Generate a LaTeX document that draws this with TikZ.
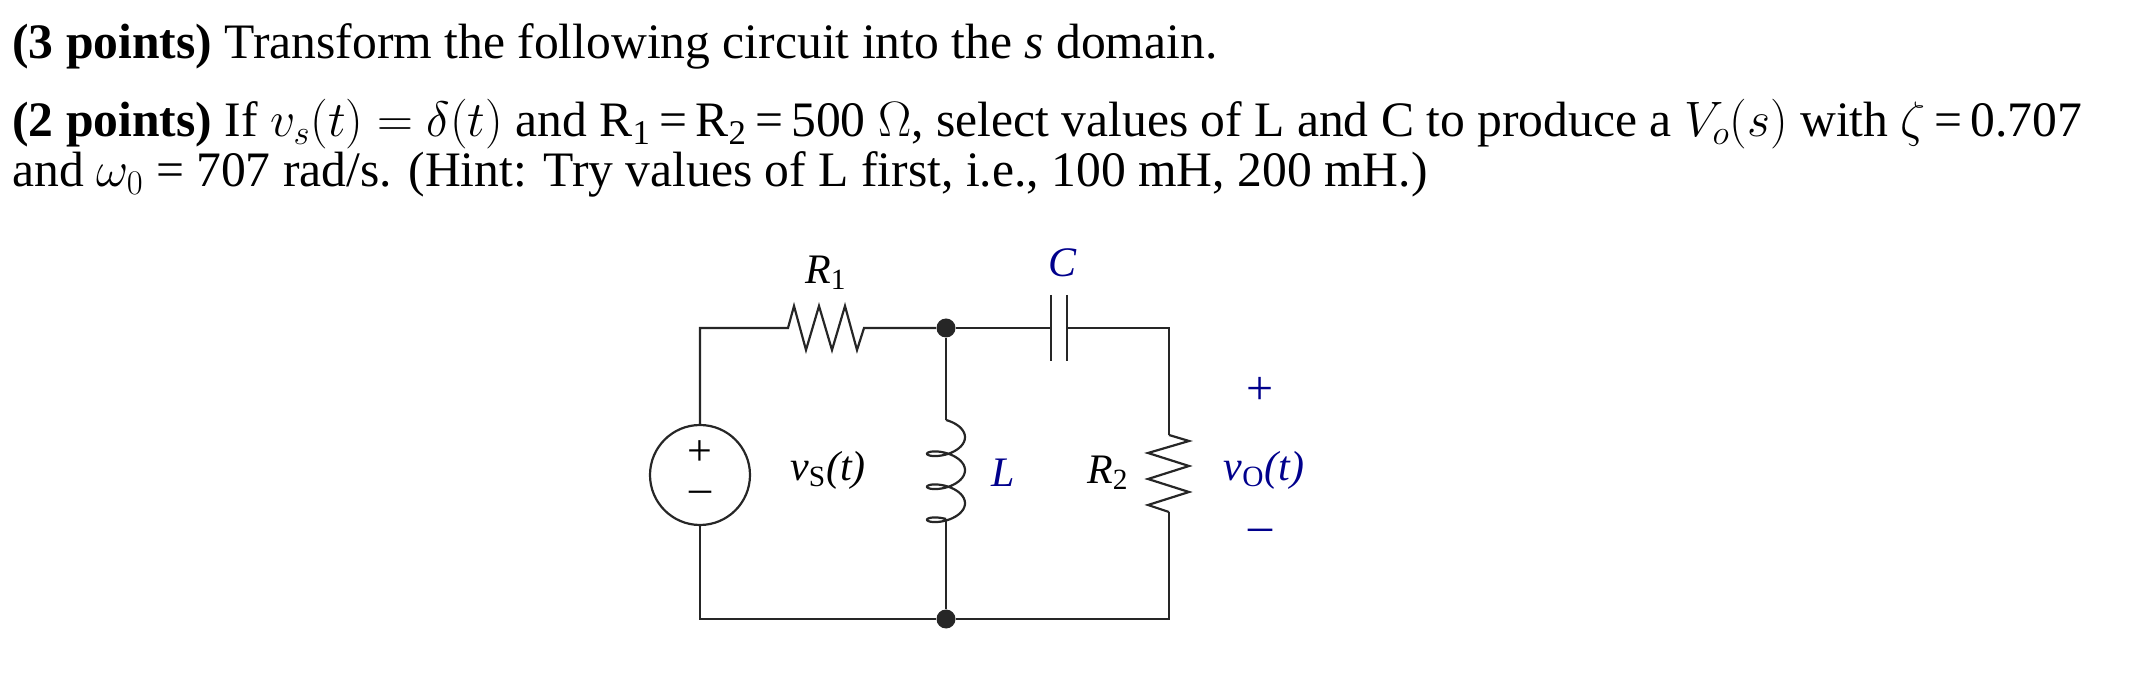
\documentclass[tikz,border=0pt]{standalone}
\usepackage{fontspec}
\setmainfont{Liberation Serif}
\usetikzlibrary{shapes.geometric}
\begin{document}
\begin{tikzpicture}[x=0.5pt,y=-0.5pt,
  w/.style={line width=1.1pt,black!85},
  lbl/.style={font=\fontsize{21}{24}\selectfont\itshape},
  blu/.style={text=blue!55!black},
  dot/.style={circle,fill=black!85,inner sep=0,minimum size=9.5pt}]
\useasboundingbox (0,0) rectangle (2152,694);
\node[anchor=base west,font=\fontsize{24.8}{28}\selectfont,inner sep=0] (t1) at (12,59)
 {\textbf{(3 points)} Transform the following circuit into the \textit{s} domain.};
\node[anchor=base west,font=\fontsize{24.8}{28}\selectfont,inner sep=0] (t2) at (12,137)
 {\textbf{(2 points)} If $v_s(t)=\delta(t)$ and R\textsubscript{1}\,=\,R\textsubscript{2}\,=\,500 $\Omega$, select values of L and C to produce a $V_o(s)$ with $\zeta$\,=\,0.707};
\node[anchor=base west,font=\fontsize{24.8}{28}\selectfont,inner sep=0] (t3) at (12,187)
 {and $\omega_0$ = 707 rad/s. (Hint: Try values of L first, i.e., 100 mH, 200 mH.)};
% nodes
\coordinate (tl) at (700,328); \coordinate (bl) at (700,619);
\coordinate (tr) at (1169,328); \coordinate (br) at (1169,619);
\node[dot] (nt) at (946,328) {}; \node[dot] (nb) at (946,619) {};
\node[draw,w,circle,minimum size=50pt,inner sep=0] (src) at (700,475) {};
\node[font=\fontsize{22}{22}\selectfont] (sp) at (700,453) {+};
\node[font=\fontsize{22}{22}\selectfont] (sm) at (700,497) {--};
% wires
\draw[w] (src.south) -- (bl) -- (nb) -- (br) -- (1169,512);
\draw[w] (src.north) -- (tl) -- (788,328)
  -- (794,306) -- (806,350) -- (819,306) -- (832,350) -- (845,306) -- (857,350) -- (864,328) -- (nt);
\draw[w] (nt) -- (1051,328); \draw[w] (1067,328) -- (tr) -- (1169,435);
\draw[w] (1051,295) -- (1051,361); \draw[w] (1067,295) -- (1067,361);
\draw[w] (1169,435) -- (1189,441) -- (1148,453) -- (1189,466) -- (1148,479) -- (1189,492) -- (1148,505) -- (1169,512);
\draw[w] (nt) -- (946,420);
\draw[w,smooth] plot[domain=0:1080,samples=120,variable=\t] ({946+19*sin(\t)},{429+(\t/360)*33-9*cos(\t)});
\draw[w] (946,519) -- (nb);
% labels
\node[lbl] (r1) at (826,273) {R\textsubscript{\upshape 1}};
\node[lbl,blu] (c) at (1062,263) {C};
\node[lbl] (vs) at (828,470) {v\textsubscript{\upshape S}(t)};
\node[lbl,blu] (l) at (1003,473) {L};
\node[lbl] (r2) at (1108,473) {R\textsubscript{\upshape 2}};
\node[lbl,blu] (vo) at (1264,470) {v\textsubscript{\upshape O}(t)};
\node[blu,font=\fontsize{24}{24}\selectfont] (op) at (1260,391) {+};
\node[blu,font=\fontsize{24}{24}\selectfont] (om) at (1260,535) {--};
\end{tikzpicture}
\end{document}
